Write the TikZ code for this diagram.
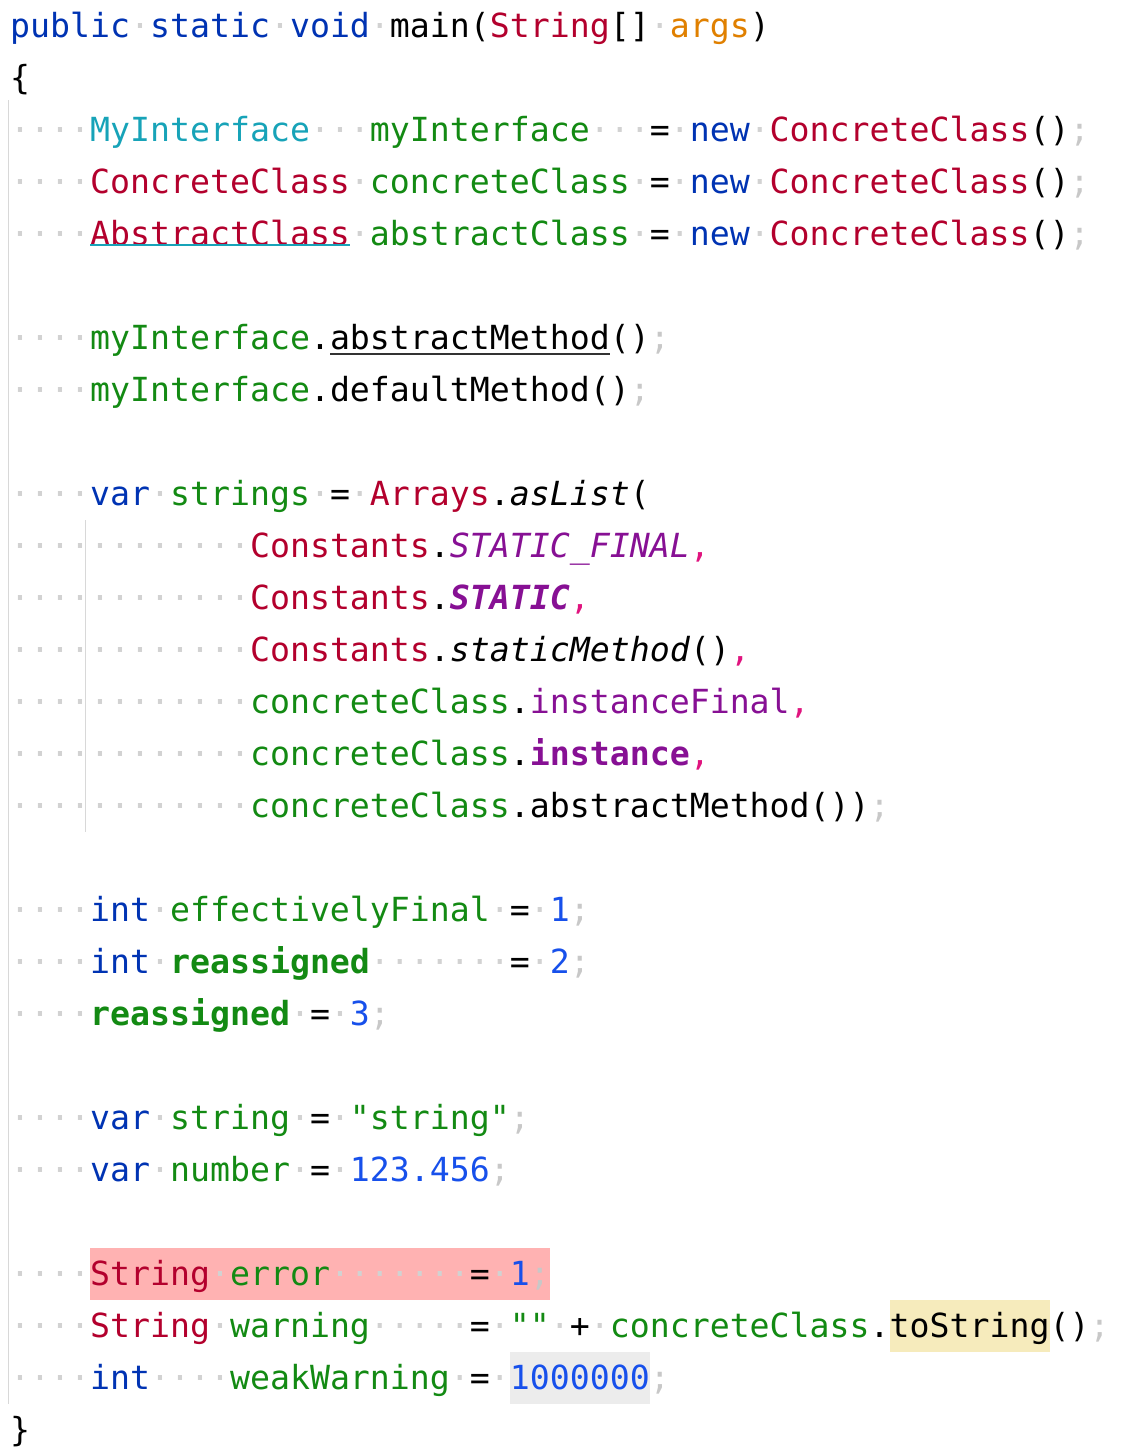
\documentclass[tikz,border=0pt]{standalone}
\usepackage{fontspec}
\setmonofont{DejaVu Sans Mono}
\definecolor{kw}{HTML}{0033B3}
\definecolor{cl}{HTML}{B3002D}
\definecolor{itf}{HTML}{17A3B8}
\definecolor{vr}{HTML}{138A13}
\definecolor{ar}{HTML}{E08000}
\definecolor{pu}{HTML}{871094}
\definecolor{nu}{HTML}{1750EB}
\definecolor{dotc}{HTML}{D2D2D2}
\definecolor{semi}{HTML}{C8C8C8}
\definecolor{pk}{HTML}{E0147F}
\newcommand\dt{\textcolor{dotc}{·}}
\newcommand\dd[1]{\foreach\i in {1,...,#1}{\dt}}
\newcommand\kK[1]{\textcolor{kw}{#1}}
\newcommand\cC[1]{\textcolor{cl}{#1}}
\newcommand\vV[1]{\textcolor{vr}{#1}}
\newcommand\nN[1]{\textcolor{nu}{#1}}
\newcommand\pP[1]{\textcolor{pu}{#1}}
\newcommand\sm{\textcolor{semi}{;}}
\newcommand\cm{\textcolor{pk}{,}}
\begin{document}
\begin{tikzpicture}[x=1pt,y=-1pt,
  code/.style={anchor=base west,inner sep=0pt,font=\ttfamily\fontsize{33.2}{40}\selectfont}]
\useasboundingbox[fill=white] (0,0) rectangle (1120,1456);
% highlights
\fill[fill={rgb,255:red,255;green,178;blue,178}] (90,1248) rectangle (550,1300);
\fill[fill={rgb,255:red,246;green,235;blue,188}] (890,1300) rectangle (1050,1352);
\fill[fill={rgb,255:red,236;green,236;blue,236}] (510,1352) rectangle (650,1404);
% guides
\draw[semi!70,line width=1pt] (8,100) -- (8,1404);
\draw[semi!70,line width=1pt] (85,520) -- (85,832);
\newcommand\codeln[2]{\node[code] (r#1) at (10,{26+52*#1+11}) {#2};}
\codeln{0}{\kK{public}\dt\kK{static}\dt\kK{void}\dt{}main(\cC{String}[]\dt\textcolor{ar}{args})}
\codeln{1}{\{}
\codeln{2}{\dd{4}\textcolor{itf}{MyInterface}\dd{3}\vV{myInterface}\dd{3}=\dt\kK{new}\dt\cC{ConcreteClass}()\sm}
\codeln{3}{\dd{4}\cC{ConcreteClass}\dt\vV{concreteClass}\dt=\dt\kK{new}\dt\cC{ConcreteClass}()\sm}
\codeln{4}{\dd{4}\cC{AbstractClass}\dt\vV{abstractClass}\dt=\dt\kK{new}\dt\cC{ConcreteClass}()\sm}
\codeln{6}{\dd{4}\vV{myInterface}.abstractMethod()\sm}
\codeln{7}{\dd{4}\vV{myInterface}.defaultMethod()\sm}
\codeln{9}{\dd{4}\kK{var}\dt\vV{strings}\dt=\dt\cC{Arrays}.\textit{asList}(}
\codeln{10}{\dd{12}\cC{Constants}.\pP{\textit{STATIC\_FINAL}}\cm}
\codeln{11}{\dd{12}\cC{Constants}.\pP{\textbf{\textit{STATIC}}}\cm}
\codeln{12}{\dd{12}\cC{Constants}.\textit{staticMethod}()\cm}
\codeln{13}{\dd{12}\vV{concreteClass}.\pP{instanceFinal}\cm}
\codeln{14}{\dd{12}\vV{concreteClass}.\pP{\textbf{instance}}\cm}
\codeln{15}{\dd{12}\vV{concreteClass}.abstractMethod())\sm}
\codeln{17}{\dd{4}\kK{int}\dt\vV{effectivelyFinal}\dt=\dt\nN{1}\sm}
\codeln{18}{\dd{4}\kK{int}\dt\vV{\textbf{reassigned}}\dd{7}=\dt\nN{2}\sm}
\codeln{19}{\dd{4}\vV{\textbf{reassigned}}\dt=\dt\nN{3}\sm}
\codeln{21}{\dd{4}\kK{var}\dt\vV{string}\dt=\dt\vV{"string"}\sm}
\codeln{22}{\dd{4}\kK{var}\dt\vV{number}\dt=\dt\nN{123.456}\sm}
\codeln{24}{\dd{4}\cC{String}\dt\vV{error}\dd{7}=\dt\nN{1}\sm}
\codeln{25}{\dd{4}\cC{String}\dt\vV{warning}\dd{5}=\dt\vV{""}\dt+\dt\vV{concreteClass}.toString()\sm}
\codeln{26}{\dd{4}\kK{int}\dd{4}\vV{weakWarning}\dt=\dt\nN{1000000}\sm}
\codeln{27}{\}}
% underlines
\draw[itf,line width=1.2pt] (90,245) -- (350,245);
\draw[black!80,line width=1.2pt] (330,354) -- (610,354);
\end{tikzpicture}
\end{document}
